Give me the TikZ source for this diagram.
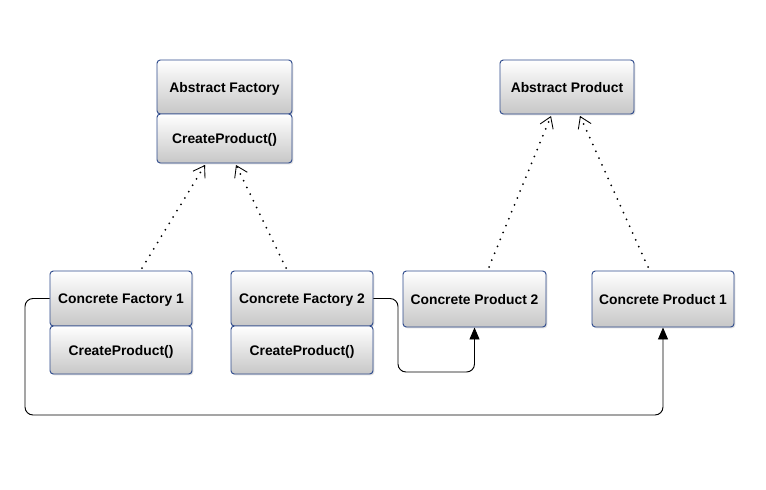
\documentclass[tikz,border=0pt]{standalone}
\usepackage{fontspec}
\setmainfont{Liberation Sans}
\usetikzlibrary{arrows.meta,bending,shadows}
\definecolor{boxblue}{HTML}{2E4A8C}
\tikzset{
  x=0.75pt,y=-0.75pt,
  umlbox/.style={draw=boxblue, line width=0.7pt, rounded corners=2.5pt,
    left color=white, right color=black!22, shading angle=0,
    drop shadow={shadow xshift=1pt,shadow yshift=-1pt,opacity=0.25},
    font=\bfseries\fontsize{10.4}{12}\selectfont, inner sep=0pt, anchor=center,
    text height=1.65ex, text depth=0.15ex},
  realize/.style={line width=1.5pt, line cap=round, dash pattern=on 0pt off 5.6pt,
    -{Straight Barb[bend,length=8pt,width=10.5pt,line width=0.65pt,line cap=butt]}},
  assoc/.style={line width=0.7pt, rounded corners=6pt, -{Triangle[length=9pt,width=7.5pt]}}
}
\begin{document}
\begin{tikzpicture}
\useasboundingbox (0,0) rectangle (766,489);
% abstract factory
\node[umlbox, minimum width=101.25pt, minimum height=40.5pt] (AF) at (224.5,87) {Abstract Factory};
\node[umlbox, minimum width=101.25pt, minimum height=36.75pt] (AFm) at (224.5,138.5) {CreateProduct()};
% abstract product
\node[umlbox, minimum width=100.5pt, minimum height=40.5pt] (AP) at (567,87) {Abstract Product};
% concrete factories
\node[umlbox, minimum width=106.5pt, minimum height=41.25pt] (CF1) at (121,298.5) {Concrete Factory 1};
\node[umlbox, minimum width=106.5pt, minimum height=36pt] (CF1m) at (121,350) {CreateProduct()};
\node[umlbox, minimum width=106.5pt, minimum height=41.25pt] (CF2) at (302,298.5) {Concrete Factory 2};
\node[umlbox, minimum width=106.5pt, minimum height=36pt] (CF2m) at (302,350) {CreateProduct()};
% concrete products
\node[umlbox, minimum width=107.25pt, minimum height=42pt] (CP2) at (474.5,299) {Concrete Product 2};
\node[umlbox, minimum width=106.5pt, minimum height=42pt] (CP1) at (663,299) {Concrete Product 1};
% realization endpoints
\coordinate (a1s) at (142,268); \coordinate (a1e) at (205,165);
\coordinate (a2s) at (286,268); \coordinate (a2e) at (236,165);
\coordinate (b1s) at (489,267); \coordinate (b1e) at (551,116);
\coordinate (b2s) at (648,267); \coordinate (b2e) at (580,116);
\draw[realize] (a1s) -- (a1e);
\draw[realize] (a2s) -- (a2e);
\draw[realize] (b1s) -- (b1e);
\draw[realize] (b2s) -- (b2e);
% associations
\coordinate (k1) at (398,372);
\coordinate (k2) at (25,415);
\draw[assoc] (CF2.east) -| (k1) -| (CP2.south);
\draw[assoc] (CF1.west) -| (k2) -| (CP1.south);
\end{tikzpicture}
\end{document}
